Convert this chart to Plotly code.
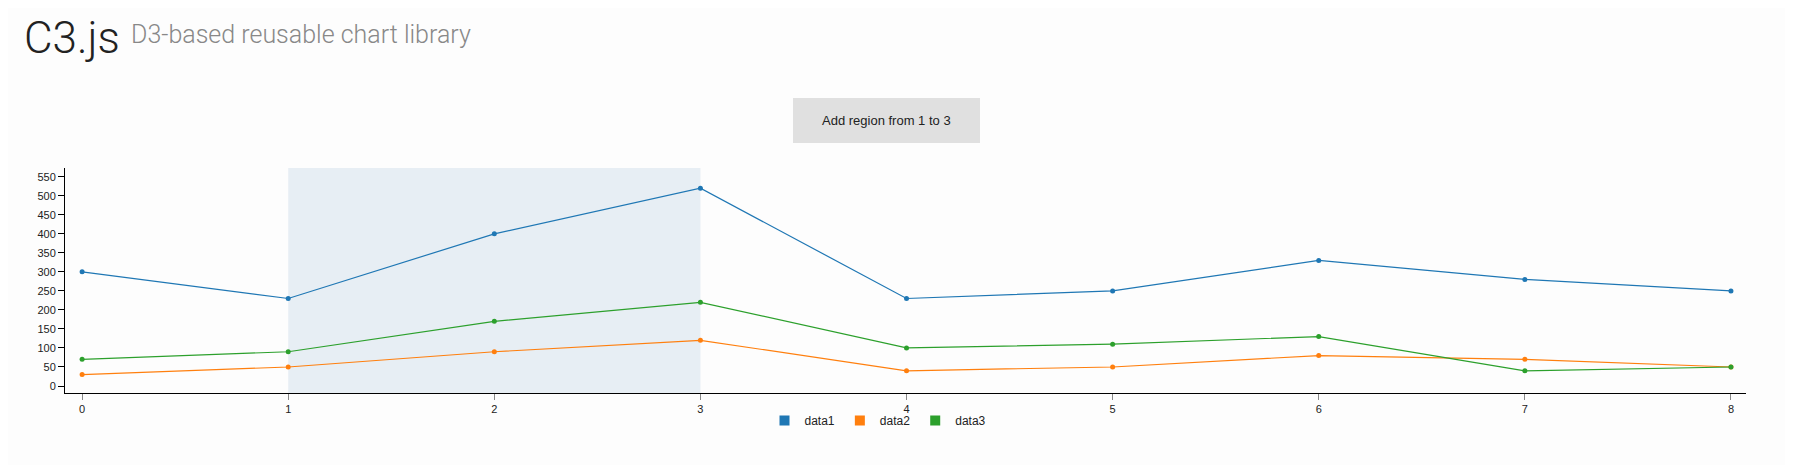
import plotly.graph_objects as go

x = [0, 1, 2, 3, 4, 5, 6, 7, 8]
data1 = [300, 230, 400, 520, 230, 250, 330, 280, 250]
data2 = [30, 50, 90, 120, 40, 50, 80, 70, 50]
data3 = [70, 90, 170, 220, 100, 110, 130, 40, 50]
names = ["data1", "data2", "data3"]
colors = ["#1f77b4", "#ff7f0e", "#2ca02c"]
region = [1, 3]

W, H = 1793, 465
fig = go.Figure()
for n, d, c in zip(names, [data1, data2, data3], colors):
    fig.add_trace(go.Scatter(x=x, y=d, mode="lines+markers", name=n, showlegend=False,
                             line=dict(color=c, width=1.2), marker=dict(color=c, size=5)))
for n, c in zip(names, colors):
    fig.add_trace(go.Scatter(x=[None], y=[None], mode="markers", name=n,
                             marker=dict(color=c, size=10, symbol="square")))

fig.add_shape(type="rect", xref="x", yref="y domain", x0=region[0], x1=region[1], y0=0, y1=1,
              fillcolor="rgba(70,130,180,0.12)", line_width=0, layer="below")

fig.add_annotation(xref="paper", yref="paper", x=14/W, y=1-2/H, xanchor="left", yanchor="top",
                   text="C3.js", showarrow=False, font=dict(family="Roboto", size=44, color="#222", weight=300))
fig.add_annotation(xref="paper", yref="paper", x=121/W, y=1-10/H, xanchor="left", yanchor="top",
                   text="D3-based reusable chart library", showarrow=False,
                   font=dict(family="Roboto", size=25, color="#888", weight=300))
fig.add_shape(type="rect", xref="paper", yref="paper", x0=785/W, x1=972/W,
              y0=1-135/H, y1=1-90/H, fillcolor="#e0e0e0", line_width=0)
fig.add_annotation(xref="paper", yref="paper", x=878.5/W, y=1-112.5/H, xanchor="center", yanchor="middle",
                   text="Add region from 1 to 3", showarrow=False,
                   font=dict(family="Liberation Sans", size=13, color="#222"))

fig.update_layout(
    width=W, height=H, margin=dict(l=0, r=0, t=0, b=0),
    paper_bgcolor="#fdfdfd", plot_bgcolor="rgba(0,0,0,0)",
    font=dict(family="Liberation Sans", size=11, color="#222"),
    xaxis=dict(domain=[57/W, 1738/W], range=[-0.083, 8.073], tickvals=x, showgrid=False,
               zeroline=False, showline=True, linecolor="#000", ticks="outside", ticklen=6,
               tickcolor="#888", tickfont=dict(size=11)),
    yaxis=dict(domain=[(H-385)/H, (H-160)/H], range=[-18.4, 573], dtick=50, showgrid=False,
               zeroline=False, showline=True, linecolor="#000", ticks="outside", ticklen=6,
               tickcolor="#000", tickfont=dict(size=11)),
    legend=dict(orientation="h", x=870/W, xanchor="center", y=1-398/H, yanchor="top",
                font=dict(size=12), itemwidth=30, tracegroupgap=0, bgcolor="rgba(0,0,0,0)"),
)
fig.write_html("out.html")
